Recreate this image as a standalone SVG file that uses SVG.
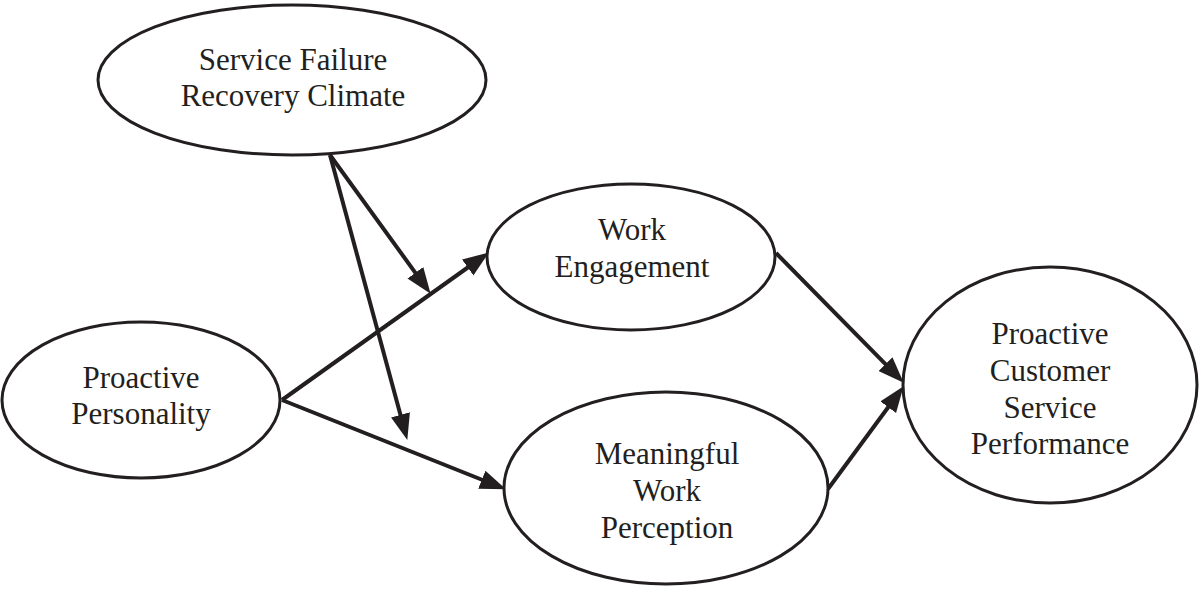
<svg xmlns="http://www.w3.org/2000/svg" width="1200" height="591" viewBox="0 0 1200 591">
<style>
.node ellipse{fill:#fff;stroke:#231f20;stroke-width:3}
.node text{font-family:"Liberation Serif","Times New Roman",serif;font-size:31px;fill:#231f20;text-anchor:middle}
.edge{stroke:#231f20;stroke-width:4;fill:none;marker-end:url(#ah)}
</style>
<defs>
<marker id="ah" markerUnits="userSpaceOnUse" markerWidth="26" markerHeight="20" viewBox="0 0 24 18" refX="12" refY="9" orient="auto">
<path d="M0,0 L24,9 L0,18 z" fill="#231f20"/>
</marker>
</defs>
<rect width="1200" height="591" fill="#fff"/>
<g id="connectors">
<line class="edge" x1="282" y1="400" x2="478.3" y2="260"/>
<line class="edge" x1="282" y1="400" x2="493.9" y2="484.5"/>
<line class="edge" x1="330" y1="155" x2="423" y2="283.3"/>
<line class="edge" x1="330" y1="155" x2="403.9" y2="427.4"/>
<line class="edge" x1="776" y1="253" x2="894.6" y2="373.4"/>
<line class="edge" x1="828" y1="489" x2="895.9" y2="396.7"/>
</g>
<g id="sfrc" class="node">
<ellipse cx="292" cy="80" rx="194" ry="75"/>
<text x="293" y="70">Service Failure</text>
<text x="293" y="106">Recovery Climate</text>
</g>
<g id="we" class="node">
<ellipse cx="631" cy="257" rx="144" ry="73"/>
<text x="632" y="240">Work</text>
<text x="632" y="277">Engagement</text>
</g>
<g id="pp" class="node">
<ellipse cx="141" cy="400" rx="139" ry="78"/>
<text x="141" y="388">Proactive</text>
<text x="141" y="424">Personality</text>
</g>
<g id="mwp" class="node">
<ellipse cx="666" cy="488" rx="162" ry="96"/>
<text x="667" y="464">Meaningful</text>
<text x="667" y="501">Work</text>
<text x="667" y="538">Perception</text>
</g>
<g id="pcsp" class="node">
<ellipse cx="1050" cy="385" rx="147" ry="118"/>
<text x="1050" y="344">Proactive</text>
<text x="1050" y="381">Customer</text>
<text x="1050" y="418">Service</text>
<text x="1050" y="454">Performance</text>
</g>
</svg>
